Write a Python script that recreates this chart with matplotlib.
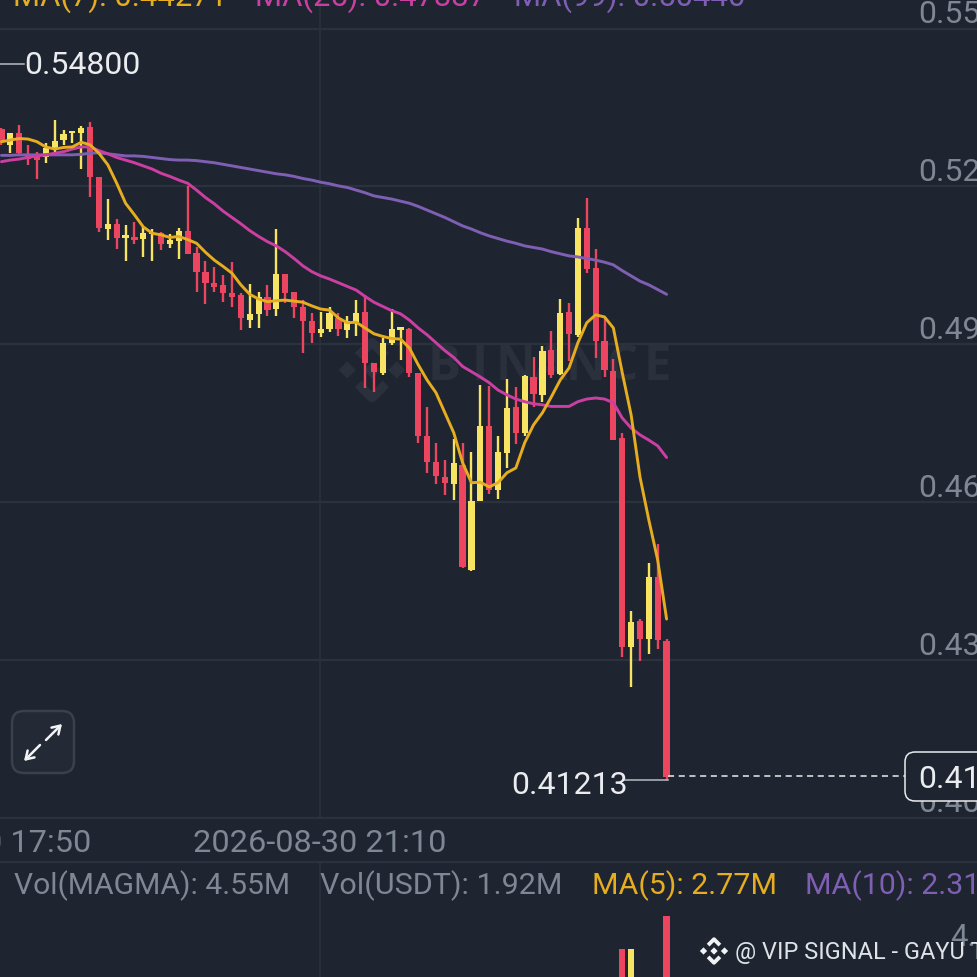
import matplotlib
matplotlib.use("Agg")
import matplotlib.pyplot as plt
from matplotlib.patches import FancyBboxPatch, Polygon

open_price = [.53575,.53277,.53499,.53087,.53055,.53043,.53214,.53372,.53499,.53499,
              .53613,.52663,.51687,.51776,.5151,.51535,.51491,.5158,.51611,.5139,
              .51459,.51643,.51219,.5087,.50649,.50611,.50459,.50427,.49952,.5006,
              .50383,.50155,.5082,.50478,.50205,.49933,.49699,.49775,.4999,.49762,
              .4992,.5011,.49141,.48951,.49509,.49762,.49781,.48939,.47748,.47254,
              .46969,.46836,.47197,.45202,.46519,.47938,.46722,.47425,.48299,.47805,
              .48869,.48527,.49382,.48926,.50104,.49667,.517,.5094,.49553,.48983,
              .4771,.43739,.44233,.43891,.45069,.43853]
close_price = [.5334,.53499,.53119,.53005,.52992,.53226,.53359,.53486,.53543,.53594,
               .52663,.51694,.51776,.51504,.51561,.51472,.51599,.51611,.5139,.51472,
               .51649,.51206,.5087,.50649,.50585,.50459,.50395,.49984,.5006,.50395,
               .50142,.5082,.50459,.50205,.49933,.49699,.49787,.50079,.4979,.49939,
               .50091,.49141,.4897,.49509,.49775,.49813,.48939,.47748,.47254,.46988,
               .46855,.47235,.45259,.46519,.47938,.46722,.47444,.4828,.47805,.48888,
               .48546,.49363,.48907,.50085,.49686,.517,.50921,.49553,.49002,.47672,
               .43739,.44214,.43891,.45069,.43872,.41269]
high_price = [.53594,.53511,.53657,.53277,.5315,.53309,.53752,.53562,.53543,.53638,
              .53708,.52663,.52257,.51865,.51757,.51808,.51725,.51675,.5163,.5158,
              .51694,.52498,.51345,.51073,.50953,.50807,.5106,.50459,.50636,.5049,
              .50611,.51675,.5082,.50478,.50332,.50079,.50098,.50193,.50091,.50028,
              .50332,.50427,.49141,.49604,.50155,.49813,.49794,.48939,.48299,.47621,
              .47292,.47691,.47615,.47444,.48717,.48698,.47748,.48831,.48679,.48907,
              .49249,.49458,.49743,.50351,.50275,.5189,.5227,.51301,.50009,.49211,
              .47805,.44423,.44271,.45335,.45696,.43891]
low_price = [.53277,.53119,.53087,.52897,.52625,.52929,.53119,.53277,.53309,.52821,
             .52295,.51618,.51472,.51301,.51079,.51396,.51155,.51079,.51282,.51314,
             .51105,.51206,.5049,.50256,.5049,.503,.50205,.49762,.49794,.49794,
             .50028,.50028,.50269,.49984,.49319,.49509,.49635,.49718,.49648,.49604,
             .49648,.48654,.4859,.48907,.49477,.49192,.48863,.47609,.47045,.46836,
             .46627,.46532,.4524,.45183,.46513,.46646,.46551,.4714,.47596,.47748,
             .48299,.48394,.4885,.48907,.49173,.49629,.50845,.4923,.48869,.47672,
             .43549,.42979,.43473,.43606,.43701,.41213]
ma7 = [.5334,.5337,.5340,.5339,.5334,.5324,.5320,.5323,.5324,.5333,
       .5328,.5312,.5290,.5255,.5217,.5195,.5172,.5160,.5157,.5152,
       .5154,.5148,.5141,.5124,.5109,.5097,.5084,.5062,.5044,.5035,
       .5030,.5032,.5033,.5031,.5029,.5022,.5016,.5014,.4999,.4990,
       .4991,.4980,.4969,.4964,.4960,.4959,.4942,.4910,.4881,.4857,
       .4819,.4781,.4724,.4686,.4687,.4678,.4686,.4705,.4714,.4762,
       .4796,.4819,.4849,.4881,.4904,.4952,.4990,.5005,.5001,.4980,
       .4895,.4815,.4697,.4615,.4539,.4427]
ma25 = [.5296,.5299,.5301,.5304,.5307,.5309,.5312,.5315,.5320,.5324,
        .5324,.5317,.5311,.5304,.5299,.5294,.5288,.5282,.5274,.5268,
        .5261,.5255,.5242,.5228,.5216,.5202,.5190,.5178,.5165,.5154,
        .5144,.5136,.5125,.5112,.5098,.5087,.5079,.5073,.5066,.5059,
        .5052,.5040,.5029,.5021,.5013,.5007,.4995,.4980,.4967,.4952,
        .4937,.4924,.4907,.4897,.4887,.4876,.4862,.4853,.4845,.4840,
        .4836,.4834,.4831,.4831,.4831,.4840,.4845,.4847,.4845,.4838,
        .4809,.4790,.4777,.4767,.4756,.4734]
ma99 = [.5308,.5308,.5309,.5309,.5309,.5309,.5309,.5309,.5309,.5310,
        .5312,.5313,.5311,.5309,.5307,.5307,.5306,.5304,.5302,.5300,
        .5299,.5299,.5298,.5296,.5294,.5291,.5288,.5285,.5282,.5279,
        .5276,.5273,.5271,.5268,.5264,.5261,.5257,.5254,.5250,.5247,
        .5242,.5237,.5231,.5228,.5225,.5221,.5217,.5211,.5204,.5197,
        .5190,.5182,.5174,.5168,.5161,.5155,.5150,.5145,.5141,.5136,
        .5133,.5130,.5125,.5121,.5117,.5115,.5112,.5109,.5105,.5100,
        .5089,.5079,.5069,.5062,.5053,.5044]
price_ticks = [.5549, .5249, .4949, .4649, .4349, .4049]
vol_index = [70, 71, 75]
vol_values = [3.45, 3.45, 4.55]
vol_colors = ["#eb4560", "#f7e463", "#eb4560"]
last_price = 0.41213
high_mark = "0.54800"
low_mark = "0.41213"
date_labels = ["2026-08-30 17:50", "2026-08-30 21:10"]

BG, GRID = "#1e2530", "#2b323d"
UP, DOWN = "#f7e463", "#eb4560"
GOLD, PINK, PURPLE, GREY = "#e5ad1f", "#cb3fa2", "#7f5fb3", "#7f8794"
FONT = "Roboto"
fs = lambda px: px * 0.72

fig = plt.figure(figsize=(9.77, 9.77), dpi=100, facecolor=BG)
xlim = (-0.16, 110.0)

# layer under the candles: frame lines and watermark
under = fig.add_axes([0, 0, 1, 1], facecolor=BG)
under.axis("off")
under.set_xlim(0, 977)
under.set_ylim(977, 0)

ax = fig.add_axes([0, 0, 1, 1])
ax.patch.set_alpha(0)
ax.set_xlim(xlim)
ax.set_ylim(.4049 - 159 * .00019, .4049 + 818 * .00019)
ax.axis("off")
for t in price_ticks:
    ax.axhline(t, color=GRID, lw=1.6, zorder=1)

xs = range(len(open_price))
colors = [UP if c >= o else DOWN for o, c in zip(open_price, close_price)]
ax.vlines(xs, low_price, high_price, colors=colors, lw=1.7, zorder=3)
ax.bar(xs, [abs(c - o) for o, c in zip(open_price, close_price)],
       bottom=[min(o, c) for o, c in zip(open_price, close_price)],
       width=0.7, color=colors, zorder=3)
ax.plot(xs, ma99, color=PURPLE, lw=2.1, zorder=4, solid_capstyle="round")
ax.plot(xs, ma25, color=PINK, lw=2.1, zorder=5, solid_capstyle="round")
ax.plot(xs, ma7, color=GOLD, lw=2.1, zorder=6, solid_capstyle="round")

vol = fig.add_axes([0, 0, 1, 113 / 977])
vol.patch.set_alpha(0)
vol.axis("off")
vol.set_xlim(xlim)
vol.set_ylim(2.5, 6.27)
vol.bar(vol_index, vol_values, width=0.7, color=vol_colors, zorder=3)

ov = fig.add_axes([0, 0, 1, 1])
ov.patch.set_alpha(0)
ov.axis("off")
ov.set_xlim(0, 977)
ov.set_ylim(977, 0)

def label(x, y, s, color=GREY, px=31, ha="left", va="center", **kw):
    ov.text(x, y, s, color=color, fontsize=fs(px), ha=ha, va=va,
            family=FONT, clip_on=False, **kw)

under.plot([320, 320], [0, 818], color=GRID, lw=1.2, zorder=0)
under.plot([320, 320], [862, 977], color=GRID, lw=1.2, zorder=0)
under.plot([0, 977], [862, 862], color=GRID, lw=1.6, zorder=0)

def logo(axes, cx, cy, r, color, z=1):
    d = r * 0.26
    for dx, dy in [(-r * .75, 0), (r * .75, 0), (0, 0)]:
        axes.add_patch(Polygon([(cx + dx - d, cy + dy), (cx + dx, cy + dy - d),
                                (cx + dx + d, cy + dy), (cx + dx, cy + dy + d)],
                               color=color, zorder=z, lw=0))
    for s in (-1, 1):
        axes.plot([cx - r * .42, cx, cx + r * .42],
                  [cy + s * r * .42, cy + s * r * .84, cy + s * r * .42],
                  color=color, lw=r * .2, zorder=z, solid_capstyle="butt")

logo(under, 372, 370, 33, "#2a313c")
for i, ch in enumerate("BINANCE"):
    under.text(444 + i * 35.5, 367, ch, color="#2a313c", fontsize=fs(49), ha="center",
               va="center", family="Open Sans", weight="bold", zorder=1)

label(13, 6, "MA(7): 0.44271", GOLD, va="baseline")
label(255, 6, "MA(25): 0.47337", PINK, va="baseline")
label(514, 6, "MA(99): 0.50440", PURPLE, va="baseline")

for t in price_ticks:
    y = (.4049 + 818 * .00019 - t) / .00019
    label(918, y - 14, f"{t:.5f}", GREY, px=32)

ov.plot([0, 24], [64, 64], color="#b8bcc4", lw=1.1)
label(24, 66, high_mark, "#eaecef", px=32)
ov.plot([624, 668], [780, 780], color="#b8bcc4", lw=1.1)
label(511, 785, low_mark, "#eaecef", px=32)
y_last = (.4049 + 818 * .00019 - last_price) / .00019
ov.plot([668, 905], [y_last - 4, y_last - 4], color="#eaecef", lw=1.1, dashes=(4, 3))
ov.add_patch(FancyBboxPatch((905, 752), 100, 49, boxstyle="round,pad=0,rounding_size=10",
                            fc=BG, ec="#eaecef", lw=1.1, zorder=3, clip_on=False))
ov.text(918, 780, f"{last_price:.5f}", color="#eaecef", fontsize=fs(32), va="center",
        family=FONT, zorder=4, clip_on=False)

label(91, 844, date_labels[0], GREY, px=32.5, ha="right")
label(193, 844, date_labels[1], GREY, px=32.5)

label(14, 886, "Vol(MAGMA): 4.55M", GREY, px=30)
label(320, 886, "Vol(USDT): 1.92M", GREY, px=30.5)
label(592, 886, "MA(5): 2.77M", GOLD, px=30.4)
label(805, 886, "MA(10): 2.31M", PURPLE, px=30.4)
label(950, 937, "4.5", GREY)

logo(ov, 714, 951, 14, "#f2f3f5", z=8)
ov.text(735, 953, "@ VIP SIGNAL - GAYU TRADE", color="#dfe2e6", fontsize=fs(23.5), va="center",
        family=FONT, zorder=8, clip_on=False)

ov.add_patch(FancyBboxPatch((12, 711), 62, 62, boxstyle="round,pad=0,rounding_size=12",
                            fc="#232a35", ec="#3a414c", lw=1.8, zorder=3))
ov.annotate("", xy=(62, 724), xytext=(46, 740), zorder=4,
            arrowprops=dict(arrowstyle="->,head_length=0.55,head_width=0.35", color="#f2f3f5", lw=1.8,
                            shrinkA=0, shrinkB=0))
ov.annotate("", xy=(24, 761), xytext=(40, 745), zorder=4,
            arrowprops=dict(arrowstyle="->,head_length=0.55,head_width=0.35", color="#f2f3f5", lw=1.8,
                            shrinkA=0, shrinkB=0))

fig.savefig("out.png", dpi=100, facecolor=BG)
